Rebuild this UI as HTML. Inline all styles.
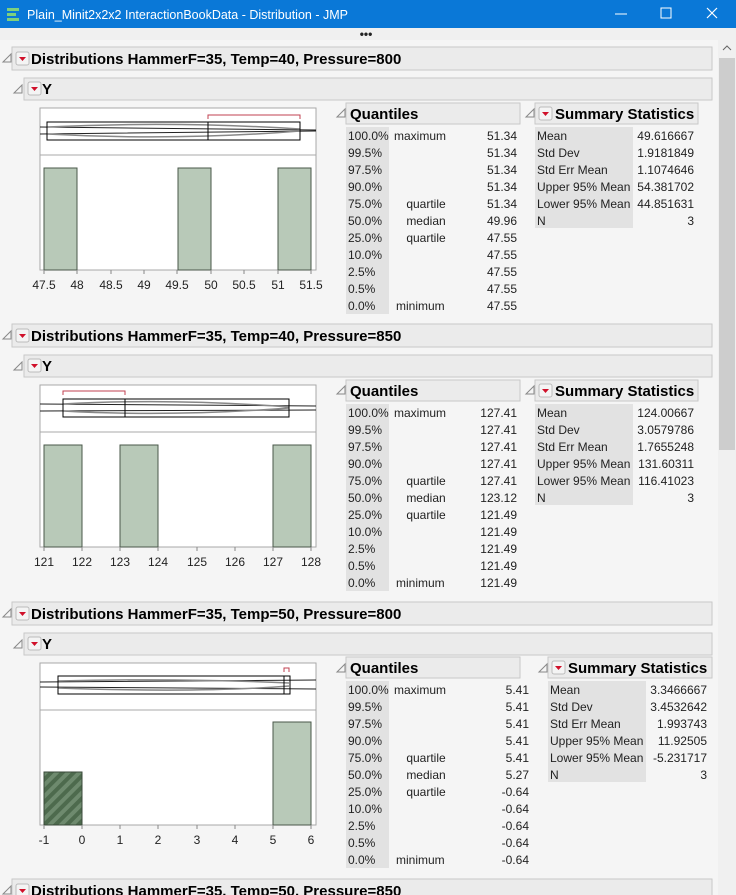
<!DOCTYPE html>
<html><head><meta charset="utf-8"><style>
body{margin:0;width:736px;height:895px;overflow:hidden;background:#f5f5f5;font-family:"Liberation Sans",sans-serif}
svg{display:block}
.h{font-weight:bold;font-size:15px;fill:#000}
.t{font-size:12px;fill:#222}
.r{text-anchor:end}
.c{text-anchor:middle}
.hb{fill:#ebebeb;stroke:#c8c8c8}
.bar{fill:#b8c9b8;stroke:#4a584a}
.tri{fill:none;stroke:#888}
.tk{stroke:#888}
</style></head><body>
<svg width="736" height="895" viewBox="0 0 736 895">
<defs>
<pattern id="hatch" width="8" height="8" patternUnits="userSpaceOnUse" patternTransform="rotate(45)">
<rect width="8" height="8" fill="#4d6a4d"/><rect width="4" height="8" fill="#6e8a6e"/></pattern>
<g id="dd"><rect x="0" y="0" width="13" height="13" rx="2" fill="#f4f4f4" stroke="#bbb"/><path d="M3 5 L10 5 L6.5 9 Z" fill="#d0102a"/></g>
<g id="tr"><path d="M1 9 L9 9 L9 1 Z" class="tri"/></g>
</defs>
<rect x="0" y="0" width="736" height="28" fill="#0a78d7"/>
<rect x="7" y="8" width="12" height="3" fill="#7ed07e"/><rect x="7" y="13" width="9" height="3" fill="#7ed07e"/><rect x="7" y="18" width="12" height="3" fill="#7ed07e"/>
<text x="27" y="19" style="font-size:12.5px;fill:#fff">Plain_Minit2x2x2 InteractionBookData - Distribution - JMP</text>
<path d="M615 14 H627" stroke="#fff"/><rect x="661" y="8" width="10" height="10" fill="none" stroke="#fff"/>
<path d="M707 8 L717 18 M717 8 L707 18" stroke="#fff" stroke-width="1.2"/>
<rect x="0" y="28" width="736" height="12" fill="#f0f0f0"/>
<text x="366" y="38" class="t c" style="font-weight:bold">•••</text>
<rect x="718" y="40" width="18" height="855" fill="#f0f0f0"/><rect x="719" y="58" width="16" height="392" fill="#cdcdcd"/>
<path d="M723 50 L727 46 L731 50" fill="none" stroke="#666"/>

<!-- SECTION 1 -->
<g transform="translate(0,0)">
<use href="#tr" x="2" y="53"/><rect x="12" y="47" width="700" height="23" class="hb"/><use href="#dd" x="16" y="52"/>
<text x="31" y="64" class="h">Distributions HammerF=35, Temp=40, Pressure=800</text>
<use href="#tr" x="13" y="84"/><rect x="24" y="78" width="688" height="22" class="hb"/><use href="#dd" x="28" y="82"/>
<text x="42" y="94" class="h">Y</text>
<rect x="40" y="108" width="276" height="162" fill="#fff" stroke="#a8a8a8"/><line x1="40" y1="155" x2="316" y2="155" stroke="#a8a8a8"/>
<path d="M40 127 L316 130 M40 134 L316 131" stroke="#222"/>
<path d="M47 127 Q175 121 300 129 M47 134 Q175 141 300 131" stroke="#888" fill="none" stroke-width="1.5"/>
<rect x="47" y="122" width="253" height="18" fill="none" stroke="#000"/><line x1="208" y1="122" x2="208" y2="140" stroke="#000"/>
<path d="M208 119 V115 H300 V119" fill="none" stroke="#c04050"/>
<rect x="44" y="168" width="33" height="102" class="bar"/><rect x="178" y="168" width="33" height="102" class="bar"/><rect x="278" y="168" width="33" height="102" class="bar"/>
<path class="tk" d="M44 270v4M77 270v4M111 270v4M144 270v4M177 270v4M211 270v4M244 270v4M278 270v4M311 270v4"/>
<g class="t c"><text x="44" y="289">47.5</text><text x="77" y="289">48</text><text x="111" y="289">48.5</text><text x="144" y="289">49</text><text x="177" y="289">49.5</text><text x="211" y="289">50</text><text x="244" y="289">50.5</text><text x="278" y="289">51</text><text x="311" y="289">51.5</text></g>
<use href="#tr" x="336" y="108"/><rect x="346" y="103" width="174" height="21" class="hb"/><text x="350" y="119" class="h">Quantiles</text>
<rect x="346" y="127" width="43" height="187" fill="#e2e2e2"/>
<g class="t"><text x="348" y="140">100.0%</text><text x="348" y="157">99.5%</text><text x="348" y="174">97.5%</text><text x="348" y="191">90.0%</text><text x="348" y="208">75.0%</text><text x="348" y="225">50.0%</text><text x="348" y="242">25.0%</text><text x="348" y="259">10.0%</text><text x="348" y="276">2.5%</text><text x="348" y="293">0.5%</text><text x="348" y="310">0.0%</text>
<text x="394" y="140">maximum</text><text x="426" y="208" class="c">quartile</text><text x="426" y="225" class="c">median</text><text x="426" y="242" class="c">quartile</text><text x="396" y="310">minimum</text></g>
<g class="t r"><text x="517" y="140">51.34</text><text x="517" y="157">51.34</text><text x="517" y="174">51.34</text><text x="517" y="191">51.34</text><text x="517" y="208">51.34</text><text x="517" y="225">49.96</text><text x="517" y="242">47.55</text><text x="517" y="259">47.55</text><text x="517" y="276">47.55</text><text x="517" y="293">47.55</text><text x="517" y="310">47.55</text></g>
<use href="#tr" x="525" y="108"/><rect x="535" y="103" width="163" height="21" class="hb"/><use href="#dd" x="539" y="107"/><text x="555" y="119" class="h">Summary Statistics</text>
<rect x="535" y="127" width="98" height="101" fill="#e2e2e2"/>
<g class="t"><text x="537" y="140">Mean</text><text x="537" y="157">Std Dev</text><text x="537" y="174">Std Err Mean</text><text x="537" y="191">Upper 95% Mean</text><text x="537" y="208">Lower 95% Mean</text><text x="537" y="225">N</text></g>
<g class="t r"><text x="694" y="140">49.616667</text><text x="694" y="157">1.9181849</text><text x="694" y="174">1.1074646</text><text x="694" y="191">54.381702</text><text x="694" y="208">44.851631</text><text x="694" y="225">3</text></g>
</g>

<!-- SECTION 2 -->
<g transform="translate(0,277)">
<use href="#tr" x="2" y="53"/><rect x="12" y="47" width="700" height="23" class="hb"/><use href="#dd" x="16" y="52"/>
<text x="31" y="64" class="h">Distributions HammerF=35, Temp=40, Pressure=850</text>
<use href="#tr" x="13" y="84"/><rect x="24" y="78" width="688" height="22" class="hb"/><use href="#dd" x="28" y="82"/>
<text x="42" y="94" class="h">Y</text>
<rect x="40" y="108" width="276" height="162" fill="#fff" stroke="#a8a8a8"/><line x1="40" y1="155" x2="316" y2="155" stroke="#a8a8a8"/>
<path d="M40 127 L316 129 M40 134 L316 133" stroke="#222"/>
<path d="M63 127 Q170 121 289 130 M63 134 Q170 140 289 131" stroke="#888" fill="none" stroke-width="1.5"/>
<rect x="63" y="122" width="226" height="18" fill="none" stroke="#000"/><line x1="125" y1="122" x2="125" y2="140" stroke="#000"/>
<path d="M63 118 V114 H125 V118" fill="none" stroke="#c04050"/>
<rect x="44" y="168" width="38" height="102" class="bar"/><rect x="120" y="168" width="38" height="102" class="bar"/><rect x="273" y="168" width="38" height="102" class="bar"/>
<path class="tk" d="M44 270v4M82 270v4M120 270v4M158 270v4M197 270v4M235 270v4M273 270v4M311 270v4"/>
<g class="t c"><text x="44" y="289">121</text><text x="82" y="289">122</text><text x="120" y="289">123</text><text x="158" y="289">124</text><text x="197" y="289">125</text><text x="235" y="289">126</text><text x="273" y="289">127</text><text x="311" y="289">128</text></g>
<use href="#tr" x="336" y="108"/><rect x="346" y="103" width="174" height="21" class="hb"/><text x="350" y="119" class="h">Quantiles</text>
<rect x="346" y="127" width="43" height="187" fill="#e2e2e2"/>
<g class="t"><text x="348" y="140">100.0%</text><text x="348" y="157">99.5%</text><text x="348" y="174">97.5%</text><text x="348" y="191">90.0%</text><text x="348" y="208">75.0%</text><text x="348" y="225">50.0%</text><text x="348" y="242">25.0%</text><text x="348" y="259">10.0%</text><text x="348" y="276">2.5%</text><text x="348" y="293">0.5%</text><text x="348" y="310">0.0%</text>
<text x="394" y="140">maximum</text><text x="426" y="208" class="c">quartile</text><text x="426" y="225" class="c">median</text><text x="426" y="242" class="c">quartile</text><text x="396" y="310">minimum</text></g>
<g class="t r"><text x="517" y="140">127.41</text><text x="517" y="157">127.41</text><text x="517" y="174">127.41</text><text x="517" y="191">127.41</text><text x="517" y="208">127.41</text><text x="517" y="225">123.12</text><text x="517" y="242">121.49</text><text x="517" y="259">121.49</text><text x="517" y="276">121.49</text><text x="517" y="293">121.49</text><text x="517" y="310">121.49</text></g>
<use href="#tr" x="525" y="108"/><rect x="535" y="103" width="163" height="21" class="hb"/><use href="#dd" x="539" y="107"/><text x="555" y="119" class="h">Summary Statistics</text>
<rect x="535" y="127" width="98" height="101" fill="#e2e2e2"/>
<g class="t"><text x="537" y="140">Mean</text><text x="537" y="157">Std Dev</text><text x="537" y="174">Std Err Mean</text><text x="537" y="191">Upper 95% Mean</text><text x="537" y="208">Lower 95% Mean</text><text x="537" y="225">N</text></g>
<g class="t r"><text x="694" y="140">124.00667</text><text x="694" y="157">3.0579786</text><text x="694" y="174">1.7655248</text><text x="694" y="191">131.60311</text><text x="694" y="208">116.41023</text><text x="694" y="225">3</text></g>
</g>

<!-- SECTION 3 -->
<g transform="translate(0,555)">
<use href="#tr" x="2" y="53"/><rect x="12" y="47" width="700" height="23" class="hb"/><use href="#dd" x="16" y="52"/>
<text x="31" y="64" class="h">Distributions HammerF=35, Temp=50, Pressure=800</text>
<use href="#tr" x="13" y="84"/><rect x="24" y="78" width="688" height="22" class="hb"/><use href="#dd" x="28" y="82"/>
<text x="42" y="94" class="h">Y</text>
<rect x="40" y="108" width="276" height="162" fill="#fff" stroke="#a8a8a8"/><line x1="40" y1="155" x2="316" y2="155" stroke="#a8a8a8"/>
<path d="M40 127 L316 125 M40 132 L316 134" stroke="#222"/>
<path d="M58 126 Q180 123 289 128 M58 133 Q200 138 289 131" stroke="#888" fill="none" stroke-width="1.5"/>
<rect x="58" y="121" width="232" height="18" fill="none" stroke="#000"/><line x1="284" y1="121" x2="284" y2="139" stroke="#000"/>
<path d="M284 117 V113 H289 V117" fill="none" stroke="#c04050"/>
<rect x="44" y="217" width="38" height="53" fill="url(#hatch)" stroke="#3a4a3a"/><rect x="273" y="167" width="38" height="103" class="bar"/>
<path class="tk" d="M44 270v4M82 270v4M120 270v4M158 270v4M197 270v4M235 270v4M273 270v4M311 270v4"/>
<g class="t c"><text x="44" y="289">-1</text><text x="82" y="289">0</text><text x="120" y="289">1</text><text x="158" y="289">2</text><text x="197" y="289">3</text><text x="235" y="289">4</text><text x="273" y="289">5</text><text x="311" y="289">6</text></g>
<use href="#tr" x="336" y="108"/><rect x="346" y="102" width="174" height="21" class="hb"/><text x="350" y="118" class="h">Quantiles</text>
<rect x="346" y="126" width="43" height="187" fill="#e2e2e2"/>
<g class="t"><text x="348" y="139">100.0%</text><text x="348" y="156">99.5%</text><text x="348" y="173">97.5%</text><text x="348" y="190">90.0%</text><text x="348" y="207">75.0%</text><text x="348" y="224">50.0%</text><text x="348" y="241">25.0%</text><text x="348" y="258">10.0%</text><text x="348" y="275">2.5%</text><text x="348" y="292">0.5%</text><text x="348" y="309">0.0%</text>
<text x="394" y="139">maximum</text><text x="426" y="207" class="c">quartile</text><text x="426" y="224" class="c">median</text><text x="426" y="241" class="c">quartile</text><text x="396" y="309">minimum</text></g>
<g class="t r"><text x="529" y="139">5.41</text><text x="529" y="156">5.41</text><text x="529" y="173">5.41</text><text x="529" y="190">5.41</text><text x="529" y="207">5.41</text><text x="529" y="224">5.27</text><text x="529" y="241">-0.64</text><text x="529" y="258">-0.64</text><text x="529" y="275">-0.64</text><text x="529" y="292">-0.64</text><text x="529" y="309">-0.64</text></g>
<use href="#tr" x="538" y="108"/><rect x="548" y="102" width="164" height="21" class="hb"/><use href="#dd" x="552" y="106"/><text x="568" y="118" class="h">Summary Statistics</text>
<rect x="548" y="126" width="98" height="101" fill="#e2e2e2"/>
<g class="t"><text x="550" y="139">Mean</text><text x="550" y="156">Std Dev</text><text x="550" y="173">Std Err Mean</text><text x="550" y="190">Upper 95% Mean</text><text x="550" y="207">Lower 95% Mean</text><text x="550" y="224">N</text></g>
<g class="t r"><text x="707" y="139">3.3466667</text><text x="707" y="156">3.4532642</text><text x="707" y="173">1.993743</text><text x="707" y="190">11.92505</text><text x="707" y="207">-5.231717</text><text x="707" y="224">3</text></g>
</g>

<!-- SECTION 4 partial -->
<g transform="translate(0,832)">
<use href="#tr" x="2" y="53"/><rect x="12" y="47" width="700" height="23" class="hb"/><use href="#dd" x="16" y="52"/>
<text x="31" y="64" class="h">Distributions HammerF=35, Temp=50, Pressure=850</text>
</g>
</svg>
</body></html>
